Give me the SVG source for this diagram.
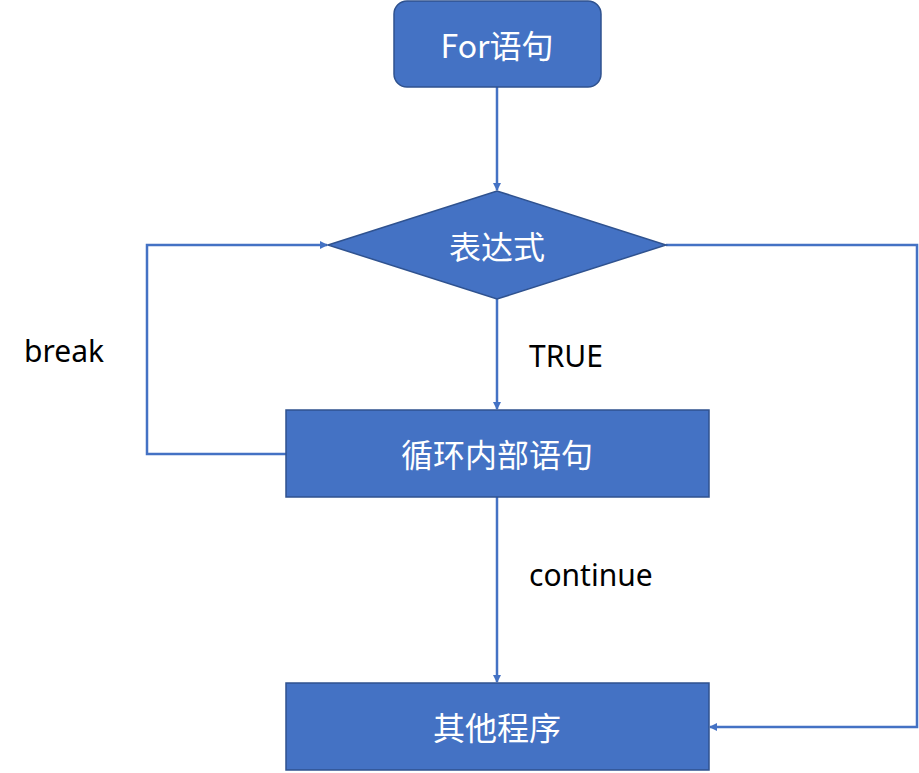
<svg xmlns="http://www.w3.org/2000/svg" width="919" height="773" viewBox="0 0 919 773">
<style>
.n{fill:#4472C4;stroke:#2F528F;stroke-width:1.5}
.t{fill:#fff;font-family:"Noto Sans CJK SC","Noto Sans",sans-serif;font-size:32px;text-anchor:middle;dominant-baseline:central}
.l{fill:#000;font-family:"Noto Sans","Noto Sans CJK SC",sans-serif;font-size:30px}
.c{fill:none;stroke:#4472C4;stroke-width:2.5}
</style>
<defs><marker id="a" markerWidth="8" markerHeight="8" refX="7" refY="4" orient="auto" markerUnits="userSpaceOnUse" viewBox="0 0 8 8"><path d="M0,0L8,4L0,8z" fill="#4472C4"/></marker></defs>
<rect width="919" height="773" fill="#fff"/>
<g id="connectors">
<path class="c" d="M497,87V190" marker-end="url(#a)"/>
<path class="c" d="M497,299V409" marker-end="url(#a)"/>
<path class="c" d="M286,454H147V245H327" marker-end="url(#a)"/>
<path class="c" d="M666,245H917V727H710" marker-end="url(#a)"/>
<path class="c" d="M497,497V682" marker-end="url(#a)"/>
</g>
<g id="for"><rect class="n" x="394" y="1" width="207" height="86" rx="13"/><text class="t" x="497" y="44">For语句</text></g>
<g id="expr"><polygon class="n" points="328,245 497,191 666,245 497,299"/><text class="t" x="497" y="245">表达式</text></g>
<g id="loop"><rect class="n" x="286" y="410" width="423" height="87"/><text class="t" x="497" y="453">循环内部语句</text></g>
<g id="other"><rect class="n" x="286" y="683" width="423" height="87"/><text class="t" x="497" y="726">其他程序</text></g>
<g id="labels">
<text class="l" x="24" y="362">break</text>
<text class="l" x="529" y="367">TRUE</text>
<text class="l" x="529" y="586">continue</text>
</g>
</svg>
